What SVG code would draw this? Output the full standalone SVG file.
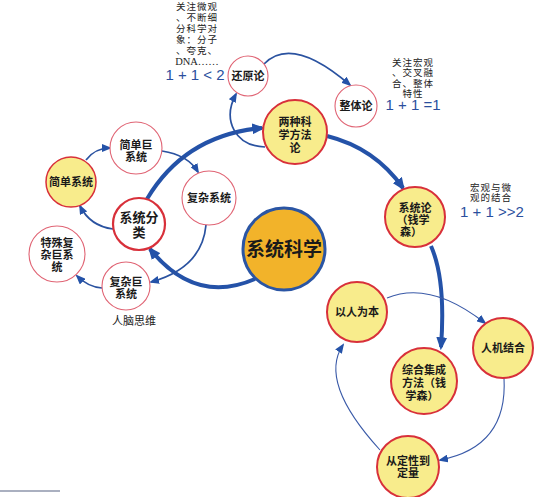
<svg xmlns="http://www.w3.org/2000/svg" width="536" height="497" viewBox="0 0 536 497">
<defs>
<marker id="ab" viewBox="0 0 12 10" refX="9" refY="5" markerWidth="13" markerHeight="11" markerUnits="userSpaceOnUse" orient="auto"><path d="M0,0 L12,5 L0,10 Z" fill="#2452a8"/></marker>
<marker id="as" viewBox="0 0 10 8" refX="8" refY="4" markerWidth="10" markerHeight="8" markerUnits="userSpaceOnUse" orient="auto"><path d="M0,0 L10,4 L0,8 Z" fill="#2452a8"/></marker>
<style>
.y{fill:#f8ec8c;stroke:#d8303a;stroke-width:2}
.w{fill:#fff;stroke:#e06474;stroke-width:1.1}
.t{font-family:"Noto Sans CJK SC",sans-serif;font-weight:bold;font-size:11px;fill:#1a1a1a;text-anchor:middle}
.n{font-family:"Noto Sans CJK SC",sans-serif;font-size:9.5px;letter-spacing:1px;fill:#222;text-anchor:middle}
.b{font-family:"Liberation Sans","DejaVu Sans",sans-serif;font-size:15px;fill:#2a4f9e;text-anchor:middle}
.thick{fill:none;stroke:#2452a8;stroke-width:4;marker-end:url(#ab)}
.thin{fill:none;stroke:#2a52a0;stroke-width:1.7;marker-end:url(#as)}
.hair{fill:none;stroke:#3a5aa8;stroke-width:1.1;marker-end:url(#as)}
</style>
</defs>
<rect width="536" height="497" fill="#fff"/>
<line x1="0" y1="491" x2="60" y2="491" stroke="#aab0c0" stroke-width="2"/>
<g id="connectors">
<path class="thick" d="M147,199 Q185,135 262,128"/>
<path class="thick" d="M327,136 Q375,148 403,188"/>
<path class="thick" d="M431,246 Q446,280 441,347"/>
<path class="thick" d="M255,279 Q195,305 150,249"/>
<path class="thin" d="M264,64 Q292,35 350,85"/>
<path class="thin" d="M265,147 C235,146 222,120 236,94"/>
<path class="thin" d="M113,229 Q90,226 80,206"/>
<path class="thin" d="M86,160 Q95,148 110,148"/>
<path class="thin" d="M162,151 Q188,155 198,172"/>
<path class="thin" d="M206,225 Q202,268 151,282"/>
<path class="thin" d="M102,288 Q88,287 77,276"/>
<path class="hair" d="M387,298 Q430,280 485,323"/>
<path class="hair" d="M504,378 Q508,447 440,460"/>
<path class="hair" d="M380,450 Q318,382 343,345"/>
</g>
<g id="n-huanyuan"><circle class="w" cx="248" cy="76" r="20"/><text class="t" x="248" y="80">还原论</text></g>
<g id="n-zhengti"><circle class="w" cx="356" cy="106" r="21"/><text class="t" x="356" y="110">整体论</text></g>
<g id="n-liangzhong"><circle class="y" cx="295" cy="132" r="32"/><text class="t" x="295" y="126">两种科</text><text class="t" x="295" y="139">学方法</text><text class="t" x="295" y="152">论</text></g>
<g id="n-xitonglun"><circle class="y" cx="415" cy="217" r="30"/><text class="t" x="415" y="212">系统论</text><text class="t" x="413" y="224">（钱学</text><text class="t" x="411" y="236">森）</text></g>
<g id="n-kexue"><circle cx="284" cy="249" r="41" fill="#f2b32a" stroke="#2a55a4" stroke-width="3"/><text class="t" x="284" y="256" style="font-size:19px">系统科学</text></g>
<g id="n-fenlei"><circle cx="139" cy="224" r="26" fill="#fff" stroke="#d8303a" stroke-width="2.2"/><text class="t" x="139" y="222" style="font-size:13px">系统分</text><text class="t" x="139" y="237" style="font-size:13px">类</text></g>
<g id="n-jiandanju"><circle class="w" cx="136" cy="148" r="26"/><text class="t" x="136" y="149">简单巨</text><text class="t" x="136" y="161">系统</text></g>
<g id="n-jiandan"><circle class="y" cx="71" cy="182" r="25" style="stroke-width:1.5"/><text class="t" x="71" y="186">简单系统</text></g>
<g id="n-fuza"><circle class="w" cx="209" cy="198" r="27"/><text class="t" x="209" y="202">复杂系统</text></g>
<g id="n-teshu"><circle class="w" cx="57" cy="254" r="28"/><text class="t" x="57" y="247">特殊复</text><text class="t" x="57" y="259">杂巨系</text><text class="t" x="57" y="271">统</text></g>
<g id="n-fuzaju"><circle class="w" cx="126" cy="286" r="24"/><text class="t" x="126" y="286">复杂巨</text><text class="t" x="126" y="298">系统</text></g>
<text class="n" x="134" y="325" style="font-size:11px;letter-spacing:0">人脑思维</text>
<g id="n-yiren"><circle class="y" cx="357" cy="312" r="30"/><text class="t" x="357" y="316">以人为本</text></g>
<g id="n-renji"><circle class="y" cx="503" cy="348" r="30"/><text class="t" x="503" y="352">人机结合</text></g>
<g id="n-zonghe"><circle class="y" cx="424" cy="381" r="33"/><text class="t" x="424" y="374">综合集成</text><text class="t" x="424" y="387">方法（钱</text><text class="t" x="422" y="400">学森）</text></g>
<g id="n-dingxing"><circle class="y" cx="408" cy="467" r="31"/><text class="t" x="408" y="465">从定性到</text><text class="t" x="408" y="477">定量</text></g>
<g id="notes">
<text class="n" x="197" y="9.5">关注微观</text>
<text class="n" x="197" y="20.5">、不断细</text>
<text class="n" x="197" y="31.5">分科学对</text>
<text class="n" x="197" y="42.5">象：分子</text>
<text class="n" x="197" y="53.5">、夸克、</text>
<text class="n" x="197" y="65" style="font-family:'Liberation Serif',serif;font-size:10.5px;letter-spacing:0">DNA……</text>
<text class="b" x="195" y="80">1 + 1 &lt; 2</text>
<text class="n" x="413" y="65.5">关注宏观</text>
<text class="n" x="413" y="76">、交叉融</text>
<text class="n" x="413" y="86.5">合、整体</text>
<text class="n" x="413" y="97">特性</text>
<text class="b" x="413" y="110">1 + 1 =1</text>
<text class="n" x="491" y="190.5">宏观与微</text>
<text class="n" x="491" y="201">观的结合</text>
<text class="b" x="492" y="217">1 + 1 &gt;&gt;2</text>
</g>
</svg>
